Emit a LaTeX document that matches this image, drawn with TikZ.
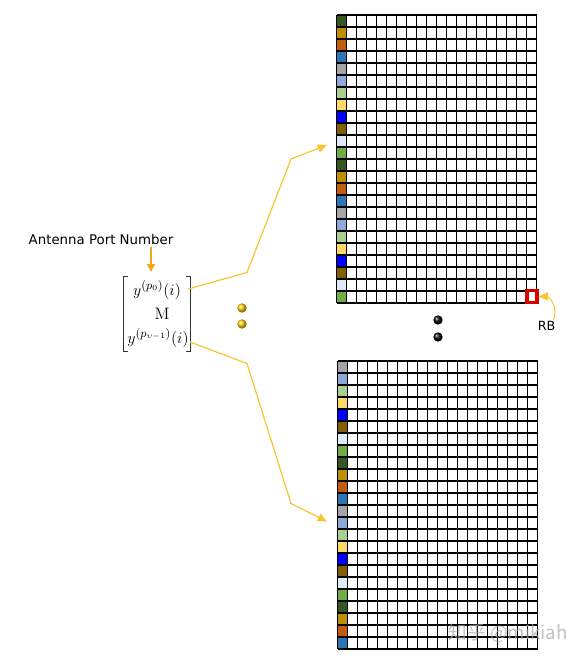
\documentclass[tikz,border=0pt]{standalone}
\usepackage{amsmath}
\usepackage{fontspec}
\setsansfont{DejaVu Sans}
\newfontfamily\cjk{Noto Sans CJK SC}
\usepackage{tikz}
\usetikzlibrary{arrows.meta, positioning, calc, shadings}
\usepackage{xcolor}

\definecolor{rowc0}{HTML}{375623}
\definecolor{rowc1}{HTML}{BF8F00}
\definecolor{rowc2}{HTML}{C55A11}
\definecolor{rowc3}{HTML}{2E75B6}
\definecolor{rowc4}{HTML}{A5A5A5}
\definecolor{rowc5}{HTML}{8EA9DB}
\definecolor{rowc6}{HTML}{A9D08E}
\definecolor{rowc7}{HTML}{FFD966}
\definecolor{rowc8}{HTML}{0000FF}
\definecolor{rowc9}{HTML}{806000}
\definecolor{rowc10}{HTML}{DDEBF7}
\definecolor{rowc11}{HTML}{70AD47}
\definecolor{feedyellow}{HTML}{F7C531}
\definecolor{portorange}{HTML}{F2A51F}
\definecolor{dotgold}{HTML}{FFCC00}

\begin{document}
\begin{tikzpicture}[
    x=0.75pt, y=-0.75pt,
    gridline/.style={draw=black, line width=1pt},
    entry/.style={inner sep=0pt, font=\fontsize{12.5}{15}\selectfont},
    label/.style={font=\sffamily\fontsize{10}{12}\selectfont, inner sep=1pt},
    feed/.style={draw=feedyellow, line width=0.9pt, -{Triangle[length=7pt, width=6pt]}},
    portarrow/.style={draw=portorange, line width=1.1pt, -{Triangle[length=6pt, width=6pt]}},
    golddot/.style={circle, inner sep=0pt, minimum size=7pt, shading=ball, ball color=dotgold},
    blackdot/.style={circle, inner sep=0pt, minimum size=7pt, shading=ball, ball color=black}
]
\useasboundingbox (0,0) rectangle (578,660);

% two resource grids, 20 columns x 24 rows
\foreach \gx/\gy/\off in {336.5/15/0, 337.5/361/4} {
  \foreach \r in {0,...,23} {
    \pgfmathtruncatemacro{\k}{mod(\r+\off,12)}
    \fill[rowc\k] (\gx,\gy+12*\r) rectangle ++(10,12);
  }
  \foreach \c in {0,...,20} \draw[gridline] (\gx+10*\c,\gy) -- ++(0,288);
  \foreach \r in {0,...,24} \draw[gridline] (\gx,\gy+12*\r) -- ++(200,0);
}

\node[draw=red!85!black, line width=2.4pt, minimum width=7.5pt, minimum height=9pt, inner sep=0pt] (rb) at (532,296.5) {};
\node[label, font=\sffamily\fontsize{9.5}{11}\selectfont] (rblabel) at (546.5,326) {RB};
\draw[feed, line width=0.7pt] ($(rblabel.north)+(7,0)$) .. controls +(5,-14) and +(10,0) .. (rb.east);

\node[blackdot] (dot1) at (438,320) {};
\node[blackdot] (dot2) at (438,337) {};

% precoded vector
\node[label] (apn) at (101,240) {Antenna Port Number};
\node[entry] (ytop) at (157,290) {$y^{(p_0)}(i)$};
\node[entry, font=\fontsize{12.5}{15}\selectfont\rmfamily] (ymid) at (162,314) {M};
\node[entry] (ybot) at (158,338) {$y^{(p_{\upsilon-1})}(i)$};
\draw[black!80, line width=0.8pt] (128,276.5) -- (123.5,276.5) -- (123.5,351.5) -- (128,351.5);
\draw[black!80, line width=0.8pt] (186,276.5) -- (190.5,276.5) -- (190.5,351.5) -- (186,351.5);
\coordinate (vectop) at (151,272);
\coordinate (brtop) at (188,289);
\coordinate (brbot) at (190,342);
\draw[portarrow] (apn.south -| vectop) -- (vectop);

\node[golddot] (gold1) at (242,308) {};
\node[golddot] (gold2) at (242,324) {};

\coordinate (grid1in) at (327,145);
\coordinate (grid2in) at (327,521.5);
\draw[feed] (brtop) -- (247,272.5) -- (291,159) -- (grid1in);
\draw[feed] (brbot) -- (247,363.5) -- (291,503.5) -- (grid2in);

\node[text=black!35, opacity=0.7, font=\cjk\fontsize{14}{16}\selectfont] (mark) at (508,633) {知乎 @mikiah};

\end{tikzpicture}
\end{document}
